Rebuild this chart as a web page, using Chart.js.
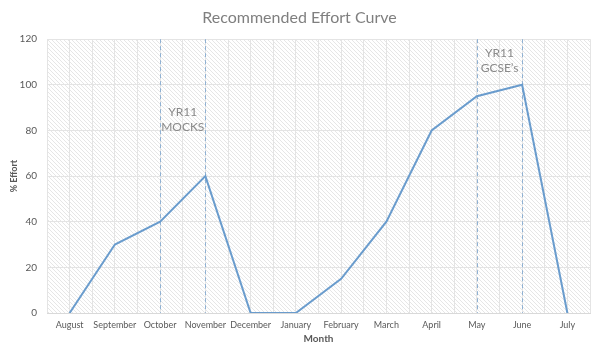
<!DOCTYPE html>
<html><head><meta charset="utf-8">
<script src="https://cdn.jsdelivr.net/npm/chart.js@4/dist/chart.umd.min.js"></script>
<style>html,body{margin:0;padding:0;background:#fff}#c{display:block}</style>
</head><body>
<canvas id="c" width="600" height="355"></canvas>
<script>
const months = ["August","September","October","November","December","January","February","March","April","May","June","July"];
const effort = [0,30,40,60,0,0,15,40,80,95,100,0];
const markerMonths = ["October","November","May","June"];
const notes = [
  {between:["October","November"], y:[112,127], lines:["YR11","MOCKS"]},
  {between:["May","June"], y:[53,68], lines:["YR11","GCSE\u2019s"]}
];
const yTicks = {min:0,max:120,step:20};

const FONT = "Lato, 'Open Sans', sans-serif";

function hatch(ctx){
  const p = document.createElement('canvas');
  p.width = 4; p.height = 4;
  const g = p.getContext('2d');
  g.fillStyle = '#ffffff'; g.fillRect(0,0,4,4);
  g.strokeStyle = '#e6e6e6'; g.lineWidth = 1;
  g.beginPath();
  g.moveTo(0,0); g.lineTo(4,4);
  g.moveTo(-1,3); g.lineTo(1,5);
  g.moveTo(3,-1); g.lineTo(5,1);
  g.stroke();
  return ctx.createPattern(p,'repeat');
}

const bgPlugin = {
  id:'bg',
  beforeDraw(chart){
    const {ctx, chartArea:a} = chart;
    ctx.save();
    ctx.fillStyle = hatch(ctx);
    ctx.fillRect(a.left,a.top,a.right-a.left,a.bottom-a.top);
    ctx.restore();
  },
  beforeDatasetsDraw(chart){
    const {ctx, chartArea:a, scales} = chart;
    ctx.save();
    ctx.strokeStyle = '#8fb1d3'; ctx.lineWidth = 1; ctx.setLineDash([4,3]);
    markerMonths.forEach(m=>{
      const x = Math.round(scales.x.getPixelForValue(months.indexOf(m)))+0.5;
      ctx.beginPath(); ctx.moveTo(x,a.top); ctx.lineTo(x,a.bottom); ctx.stroke();
    });
    ctx.setLineDash([]);
    ctx.fillStyle = '#8a8a8a';
    ctx.font = "12px " + FONT;
    ctx.textAlign = 'center'; ctx.textBaseline = 'middle';
    notes.forEach(n=>{
      const x = (scales.x.getPixelForValue(months.indexOf(n.between[0])) + scales.x.getPixelForValue(months.indexOf(n.between[1])))/2;
      n.lines.forEach((t,i)=>ctx.fillText(t,x,n.y[i]));
    });
    ctx.restore();
  }
};

new Chart(document.getElementById('c'),{
  type:'line',
  data:{labels:months,datasets:[{data:effort,borderColor:'#6a9ccd',borderWidth:2,pointRadius:0,tension:0,fill:false}]},
  options:{
    responsive:false, animation:false,
    layout:{padding:{left:9,right:10,top:0,bottom:10}},
    plugins:{
      legend:{display:false},
      tooltip:{enabled:false},
      title:{display:true,text:'Recommended Effort Curve',color:'#7f7f7f',font:{family:FONT,size:16,weight:'normal'},padding:{top:8,bottom:12}}
    },
    scales:{
      x:{
        type:'category', offset:true,
        grid:{offset:true,color:'#e4e4e4',drawTicks:false},
        border:{display:true,color:'#d9d9d9'},
        ticks:{color:'#595959',font:{family:FONT,size:9},padding:7,maxRotation:0,autoSkip:false},
        title:{display:true,text:'Month',color:'#595959',font:{family:FONT,size:10,weight:'bold'},padding:{top:2,bottom:0}},
        afterFit(s){s.height=32;}
      },
      x2:{
        type:'category', labels:months, position:'bottom', display:true, offset:true,
        grid:{offset:false,color:'#e4e4e4',drawTicks:false},
        border:{display:false},
        ticks:{display:false},
        afterFit(s){s.height=0;}
      },
      y:{
        min:yTicks.min,max:yTicks.max,
        ticks:{stepSize:yTicks.step,color:'#595959',font:{family:FONT,size:10},padding:10},
        grid:{color:'#e4e4e4',drawTicks:false},
        border:{display:false},
        title:{display:true,text:'% Effort',color:'#595959',font:{family:FONT,size:9,weight:'bold'},padding:{top:0,bottom:4}},
        afterFit(s){s.width=38;}
      }
    }
  },
  plugins:[bgPlugin]
});
</script>
</body></html>
